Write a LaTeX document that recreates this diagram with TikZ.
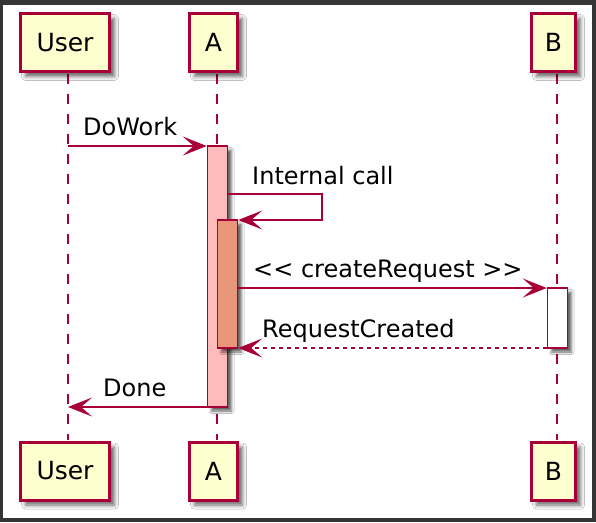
\documentclass[tikz,border=0pt]{standalone}
\usepackage{fontspec}
\setmainfont{DejaVu Sans}
\usetikzlibrary{arrows.meta,shadows.blur}
\definecolor{umlred}{HTML}{A80036}
\definecolor{umlfill}{HTML}{FEFECE}
\definecolor{actpink}{HTML}{FFBBBB}
\definecolor{actsalmon}{HTML}{E9967A}
\definecolor{frame}{HTML}{353535}
\begin{document}
\begin{tikzpicture}[x=1pt,y=-1pt,
  part/.style={draw=umlred,fill=umlfill,line width=3pt,inner sep=0pt,
    minimum height=58pt,font=\fontsize{25}{28}\selectfont,
    blur shadow={shadow xshift=5pt,shadow yshift=-5pt,shadow blur radius=4pt,shadow opacity=60}},
  lifeline/.style={draw=umlred,line width=1.5pt,dash pattern=on 10pt off 10pt},
  act/.style={draw=umlred,line width=1.5pt,inner sep=0pt,minimum width=20pt,
    blur shadow={shadow xshift=4pt,shadow yshift=-4pt,shadow blur radius=2.5pt,shadow opacity=60}},
  msg/.style={draw=umlred,line width=1.5pt,-{Stealth[length=24pt,width=19pt,inset=11pt]}},
  ret/.style={msg,dash pattern=on 4pt off 4pt},
  lbl/.style={anchor=base west,inner sep=0pt,font=\fontsize{24}{28}\selectfont}
]
\useasboundingbox (0,0) rectangle (596,522);
\fill[frame] (0,0) rectangle (596,522);
\fill[white] (3,5) rectangle (592,518);

% lifelines
\coordinate (uTop) at (68,74);  \coordinate (uBot) at (68,440);
\coordinate (aTop) at (217,74); \coordinate (aBot) at (217,440);
\coordinate (bTop) at (557,74); \coordinate (bBot) at (557,440);
\draw[lifeline] (uTop) -- (uBot);
\draw[lifeline] (aTop) -- (aBot);
\draw[lifeline] (bTop) -- (bBot);

% participants
\node[part,minimum width=89pt] (userT) at (65,42.5) {User};
\node[part,minimum width=48pt] (aT) at (213.5,42.5) {A};
\node[part,minimum width=44pt] (bT) at (553.5,42.5) {B};
\node[part,minimum width=89pt] (userB) at (65,471) {User};
\node[part,minimum width=48pt] (aB) at (213.5,471) {A};
\node[part,minimum width=44pt] (bB) at (553.5,471) {B};

% activations
\node[act,fill=actpink,minimum height=261pt] (actA) at (217.5,276.5) {};
\node[act,fill=actsalmon,minimum height=128pt] (actAi) at (227.5,284) {};
\node[act,fill=white,minimum height=60pt] (actB) at (557.5,318) {};

% messages
\coordinate (u1) at (68,146);
\draw[msg] (u1) -- (u1 -| actA.west);
\node[lbl] (l1) at (83,135) {DoWork};

\coordinate (s1) at (228,194);
\coordinate (s2) at (322,194);
\coordinate (s3) at (322,220);
\draw[msg] (s1) -- (s2) -- (s3) -- (s3 -| actAi.east);
\node[lbl] (l2) at (252,184) {Internal call};

\coordinate (c1) at (238,288);
\draw[msg] (c1) -- (c1 -| actB.west);
\node[lbl] (l3) at (253,277) {<{}< createRequest >{}>};

\coordinate (r1) at (547,348);
\draw[ret] (r1) -- (r1 -| actAi.east);
\node[lbl] (l4) at (262,337) {RequestCreated};

\coordinate (d1) at (207,407);
\draw[msg] (d1) -- (d1 -| uTop);
\node[lbl] (l5) at (103,396) {Done};
\end{tikzpicture}
\end{document}
